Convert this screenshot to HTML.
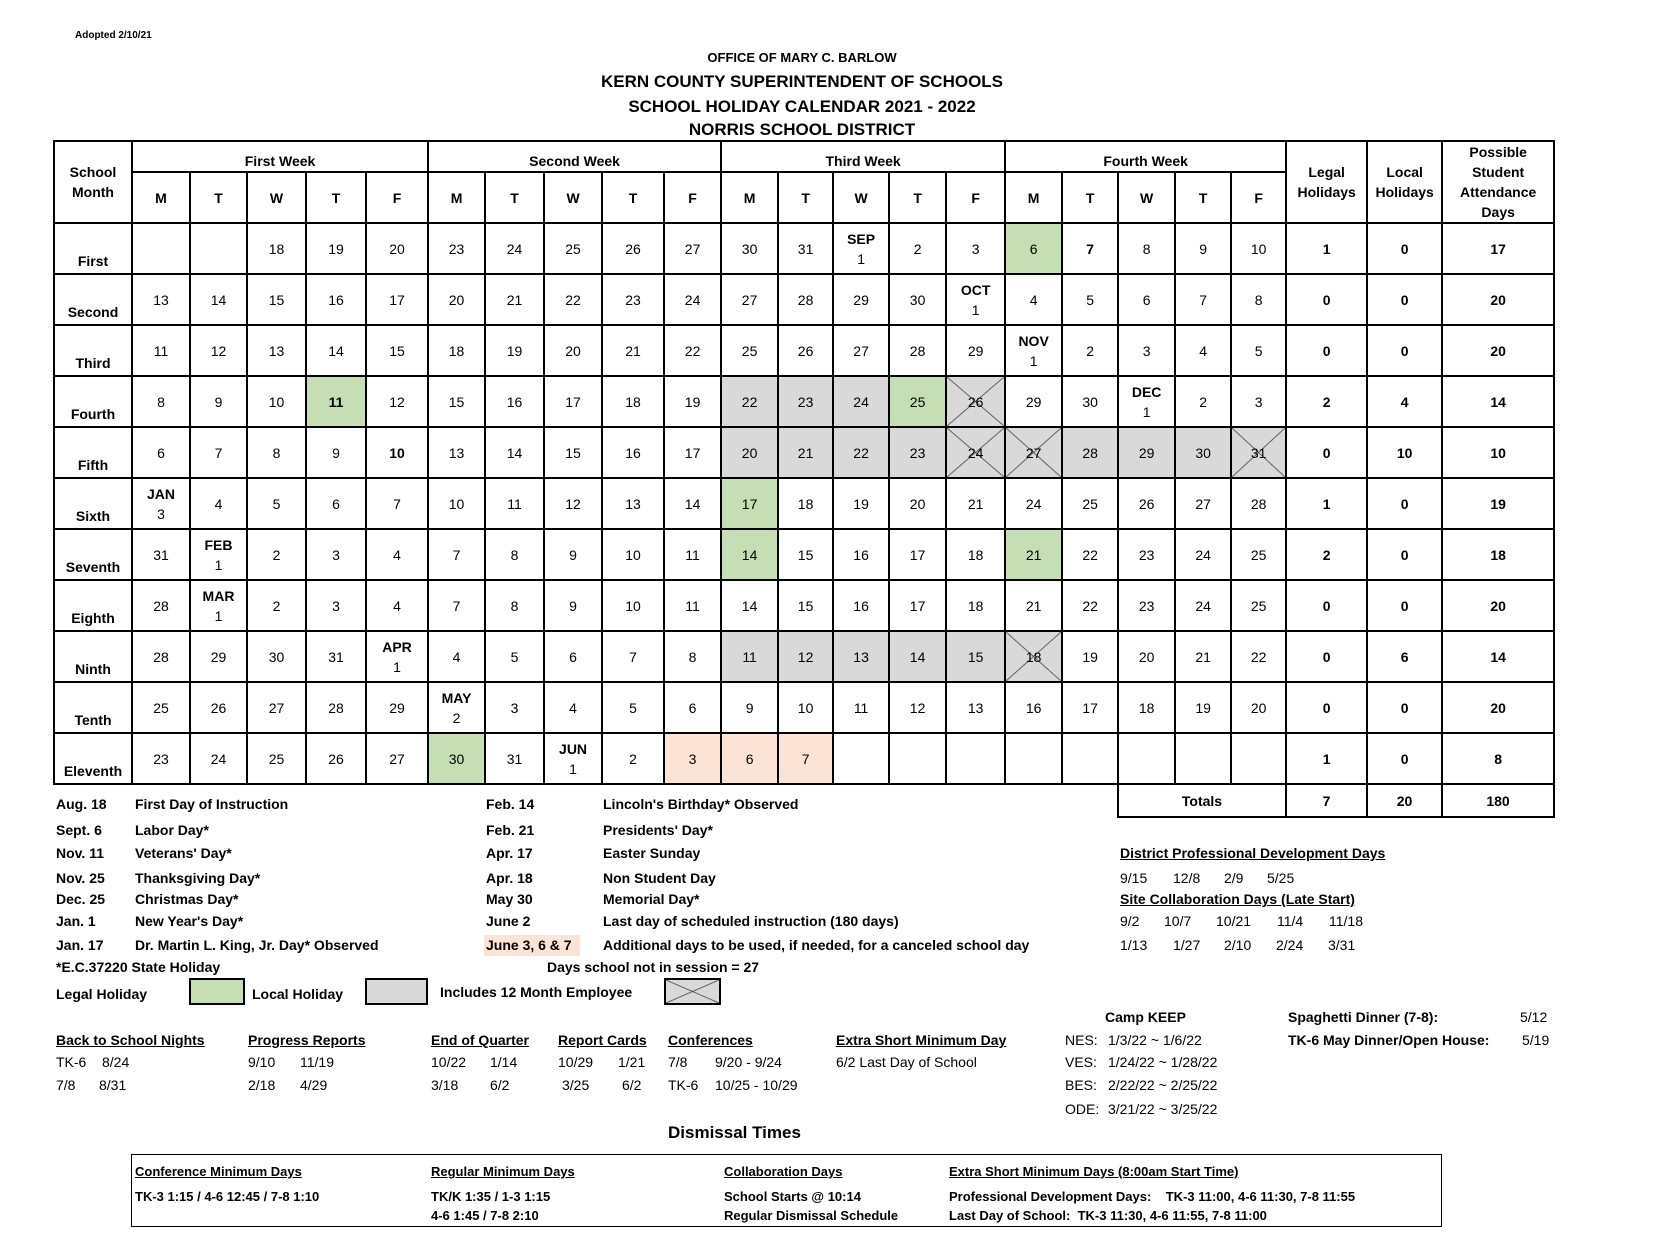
<!DOCTYPE html>
<html><head><meta charset="utf-8">
<style>
*{margin:0;padding:0;box-sizing:border-box}
body{width:1668px;height:1252px;background:#fff;position:relative;font-family:"Liberation Sans",sans-serif;color:#000;overflow:hidden}
.t{position:absolute;white-space:nowrap;line-height:18px;font-size:14px}
.b{font-weight:bold}
.u{text-decoration:underline}
.c{transform:translateX(-50%)}
table{position:absolute;border-collapse:collapse;table-layout:fixed}
td{border:2px solid #000;text-align:center;vertical-align:middle;font-size:14px;padding:0;line-height:20px}
tr.r td{height:51px}
td.m{font-weight:bold;vertical-align:bottom;padding-bottom:2px}
td.h{font-weight:bold}
.g{background:#c5deb3}
.s{background:#d9d9d9}
.p{background:#fbe4d5}
.x{background:linear-gradient(to top right,transparent calc(50% - 0.8px),#444 50%,transparent calc(50% + 0.8px)),linear-gradient(to bottom right,transparent calc(50% - 0.8px),#444 50%,transparent calc(50% + 0.8px)),#d9d9d9}
td.k{font-weight:bold}
.box{position:absolute;border:2px solid #000}
</style></head><body>
<div class="t b" style="left:75px;top:27px;font-size:10px">Adopted 2/10/21</div>
<div class="t b c" style="left:802px;top:49px;font-size:13px">OFFICE OF MARY C. BARLOW</div>
<div class="t b c" style="left:802px;top:72px;font-size:17px;line-height:20px">KERN COUNTY SUPERINTENDENT OF SCHOOLS</div>
<div class="t b c" style="left:802px;top:97px;font-size:17px;line-height:20px">SCHOOL HOLIDAY CALENDAR 2021 - 2022</div>
<div class="t b c" style="left:802px;top:120px;font-size:17px;line-height:20px">NORRIS SCHOOL DISTRICT</div>

<table style="left:53px;top:140px;width:1500px">
<colgroup><col style="width:78px"><col style="width:58px"><col style="width:57px"><col style="width:59px"><col style="width:60px"><col style="width:62px"><col style="width:57px"><col style="width:59px"><col style="width:58px"><col style="width:62px"><col style="width:57px"><col style="width:57px"><col style="width:55px"><col style="width:56px"><col style="width:57px"><col style="width:59px"><col style="width:57px"><col style="width:56px"><col style="width:57px"><col style="width:56px"><col style="width:55px"><col style="width:81px"><col style="width:75px"><col style="width:112px"></colgroup>
<tr style="height:31px"><td class="h" rowspan="2">School<br>Month</td><td class="h" colspan="5" style="vertical-align:bottom">First Week</td><td class="h" colspan="5" style="vertical-align:bottom">Second Week</td><td class="h" colspan="5" style="vertical-align:bottom">Third Week</td><td class="h" colspan="5" style="vertical-align:bottom">Fourth Week</td><td class="h" rowspan="2">Legal<br>Holidays</td><td class="h" rowspan="2">Local<br>Holidays</td><td class="h" rowspan="2">Possible<br>Student<br>Attendance<br>Days</td></tr>
<tr style="height:51px"><td class="h">M</td><td class="h">T</td><td class="h">W</td><td class="h">T</td><td class="h">F</td><td class="h">M</td><td class="h">T</td><td class="h">W</td><td class="h">T</td><td class="h">F</td><td class="h">M</td><td class="h">T</td><td class="h">W</td><td class="h">T</td><td class="h">F</td><td class="h">M</td><td class="h">T</td><td class="h">W</td><td class="h">T</td><td class="h">F</td></tr>
<tr class="r"><td class="m">First</td><td></td><td></td><td>18</td><td>19</td><td>20</td><td>23</td><td>24</td><td>25</td><td>26</td><td>27</td><td>30</td><td>31</td><td><b>SEP</b><br>1</td><td>2</td><td>3</td><td class="g">6</td><td class="k">7</td><td>8</td><td>9</td><td>10</td><td class="k">1</td><td class="k">0</td><td class="k">17</td></tr>
<tr class="r"><td class="m">Second</td><td>13</td><td>14</td><td>15</td><td>16</td><td>17</td><td>20</td><td>21</td><td>22</td><td>23</td><td>24</td><td>27</td><td>28</td><td>29</td><td>30</td><td><b>OCT</b><br>1</td><td>4</td><td>5</td><td>6</td><td>7</td><td>8</td><td class="k">0</td><td class="k">0</td><td class="k">20</td></tr>
<tr class="r"><td class="m">Third</td><td>11</td><td>12</td><td>13</td><td>14</td><td>15</td><td>18</td><td>19</td><td>20</td><td>21</td><td>22</td><td>25</td><td>26</td><td>27</td><td>28</td><td>29</td><td><b>NOV</b><br>1</td><td>2</td><td>3</td><td>4</td><td>5</td><td class="k">0</td><td class="k">0</td><td class="k">20</td></tr>
<tr class="r"><td class="m">Fourth</td><td>8</td><td>9</td><td>10</td><td class="g k">11</td><td>12</td><td>15</td><td>16</td><td>17</td><td>18</td><td>19</td><td class="s">22</td><td class="s">23</td><td class="s">24</td><td class="g">25</td><td class="x">26</td><td>29</td><td>30</td><td><b>DEC</b><br>1</td><td>2</td><td>3</td><td class="k">2</td><td class="k">4</td><td class="k">14</td></tr>
<tr class="r"><td class="m">Fifth</td><td>6</td><td>7</td><td>8</td><td>9</td><td class="k">10</td><td>13</td><td>14</td><td>15</td><td>16</td><td>17</td><td class="s">20</td><td class="s">21</td><td class="s">22</td><td class="s">23</td><td class="x">24</td><td class="x">27</td><td class="s">28</td><td class="s">29</td><td class="s">30</td><td class="x">31</td><td class="k">0</td><td class="k">10</td><td class="k">10</td></tr>
<tr class="r"><td class="m">Sixth</td><td><b>JAN</b><br>3</td><td>4</td><td>5</td><td>6</td><td>7</td><td>10</td><td>11</td><td>12</td><td>13</td><td>14</td><td class="g">17</td><td>18</td><td>19</td><td>20</td><td>21</td><td>24</td><td>25</td><td>26</td><td>27</td><td>28</td><td class="k">1</td><td class="k">0</td><td class="k">19</td></tr>
<tr class="r"><td class="m">Seventh</td><td>31</td><td><b>FEB</b><br>1</td><td>2</td><td>3</td><td>4</td><td>7</td><td>8</td><td>9</td><td>10</td><td>11</td><td class="g">14</td><td>15</td><td>16</td><td>17</td><td>18</td><td class="g">21</td><td>22</td><td>23</td><td>24</td><td>25</td><td class="k">2</td><td class="k">0</td><td class="k">18</td></tr>
<tr class="r"><td class="m">Eighth</td><td>28</td><td><b>MAR</b><br>1</td><td>2</td><td>3</td><td>4</td><td>7</td><td>8</td><td>9</td><td>10</td><td>11</td><td>14</td><td>15</td><td>16</td><td>17</td><td>18</td><td>21</td><td>22</td><td>23</td><td>24</td><td>25</td><td class="k">0</td><td class="k">0</td><td class="k">20</td></tr>
<tr class="r"><td class="m">Ninth</td><td>28</td><td>29</td><td>30</td><td>31</td><td><b>APR</b><br>1</td><td>4</td><td>5</td><td>6</td><td>7</td><td>8</td><td class="s">11</td><td class="s">12</td><td class="s">13</td><td class="s">14</td><td class="s">15</td><td class="x">18</td><td>19</td><td>20</td><td>21</td><td>22</td><td class="k">0</td><td class="k">6</td><td class="k">14</td></tr>
<tr class="r"><td class="m">Tenth</td><td>25</td><td>26</td><td>27</td><td>28</td><td>29</td><td><b>MAY</b><br>2</td><td>3</td><td>4</td><td>5</td><td>6</td><td>9</td><td>10</td><td>11</td><td>12</td><td>13</td><td>16</td><td>17</td><td>18</td><td>19</td><td>20</td><td class="k">0</td><td class="k">0</td><td class="k">20</td></tr>
<tr class="r"><td class="m">Eleventh</td><td>23</td><td>24</td><td>25</td><td>26</td><td>27</td><td class="g">30</td><td>31</td><td><b>JUN</b><br>1</td><td>2</td><td class="p">3</td><td class="p">6</td><td class="p">7</td><td></td><td></td><td></td><td></td><td></td><td></td><td></td><td></td><td class="k">1</td><td class="k">0</td><td class="k">8</td></tr>
</table>
<table style="left:1117px;top:783px;width:436px">
<colgroup><col style="width:168px"><col style="width:81px"><col style="width:75px"><col style="width:112px"></colgroup>
<tr style="height:33px"><td class="k">Totals</td><td class="k">7</td><td class="k">20</td><td class="k">180</td></tr>
</table>

<div class="t b" style="left:56px;top:795px">Aug. 18</div><div class="t b" style="left:135px;top:795px">First Day of Instruction</div>
<div class="t b" style="left:56px;top:821px">Sept. 6</div><div class="t b" style="left:135px;top:821px">Labor Day*</div>
<div class="t b" style="left:56px;top:844px">Nov. 11</div><div class="t b" style="left:135px;top:844px">Veterans' Day*</div>
<div class="t b" style="left:56px;top:869px">Nov. 25</div><div class="t b" style="left:135px;top:869px">Thanksgiving Day*</div>
<div class="t b" style="left:56px;top:890px">Dec. 25</div><div class="t b" style="left:135px;top:890px">Christmas Day*</div>
<div class="t b" style="left:56px;top:912px">Jan. 1</div><div class="t b" style="left:135px;top:912px">New Year's Day*</div>
<div class="t b" style="left:56px;top:936px">Jan. 17</div><div class="t b" style="left:135px;top:936px">Dr. Martin L. King, Jr. Day* Observed</div>
<div class="t b" style="left:56px;top:958px">*E.C.37220 State Holiday</div>

<div class="t b" style="left:486px;top:795px">Feb. 14</div><div class="t b" style="left:603px;top:795px">Lincoln's Birthday* Observed</div>
<div class="t b" style="left:486px;top:821px">Feb. 21</div><div class="t b" style="left:603px;top:821px">Presidents' Day*</div>
<div class="t b" style="left:486px;top:844px">Apr. 17</div><div class="t b" style="left:603px;top:844px">Easter Sunday</div>
<div class="t b" style="left:486px;top:869px">Apr. 18</div><div class="t b" style="left:603px;top:869px">Non Student Day</div>
<div class="t b" style="left:486px;top:890px">May 30</div><div class="t b" style="left:603px;top:890px">Memorial Day*</div>
<div class="t b" style="left:486px;top:912px">June 2</div><div class="t b" style="left:603px;top:912px">Last day of scheduled instruction (180 days)</div>
<div class="p" style="position:absolute;left:484px;top:935px;width:96px;height:21px"></div>
<div class="t b" style="left:486px;top:936px">June 3, 6 &amp; 7</div><div class="t b" style="left:603px;top:936px">Additional days to be used, if needed, for a canceled school day</div>
<div class="t b" style="left:547px;top:958px">Days school not in session = 27</div>

<div class="t b" style="left:56px;top:985px">Legal Holiday</div>
<div class="box g" style="left:189px;top:978px;width:56px;height:27px"></div>
<div class="t b" style="left:252px;top:985px">Local Holiday</div>
<div class="box s" style="left:365px;top:978px;width:63px;height:27px"></div>
<div class="t b" style="left:440px;top:983px">Includes 12 Month Employee</div>
<div class="box" style="left:664px;top:978px;width:57px;height:27px;background:linear-gradient(to top right,transparent calc(50% - 0.8px),#444 50%,transparent calc(50% + 0.8px)),linear-gradient(to bottom right,transparent calc(50% - 0.8px),#444 50%,transparent calc(50% + 0.8px)),#d9d9d9"></div>

<div class="t b u" style="left:1120px;top:844px">District Professional Development Days</div>
<div class="t" style="left:1120px;top:869px">9/15</div><div class="t" style="left:1173px;top:869px">12/8</div><div class="t" style="left:1224px;top:869px">2/9</div><div class="t" style="left:1267px;top:869px">5/25</div>
<div class="t b u" style="left:1120px;top:890px">Site Collaboration Days (Late Start)</div>
<div class="t" style="left:1120px;top:912px">9/2</div><div class="t" style="left:1164px;top:912px">10/7</div><div class="t" style="left:1216px;top:912px">10/21</div><div class="t" style="left:1277px;top:912px">11/4</div><div class="t" style="left:1329px;top:912px">11/18</div>
<div class="t" style="left:1120px;top:936px">1/13</div><div class="t" style="left:1173px;top:936px">1/27</div><div class="t" style="left:1224px;top:936px">2/10</div><div class="t" style="left:1276px;top:936px">2/24</div><div class="t" style="left:1328px;top:936px">3/31</div>

<div class="t b u" style="left:56px;top:1031px">Back to School Nights</div>
<div class="t" style="left:56px;top:1053px">TK-6</div><div class="t" style="left:102px;top:1053px">8/24</div>
<div class="t" style="left:56px;top:1076px">7/8</div><div class="t" style="left:99px;top:1076px">8/31</div>
<div class="t b u" style="left:248px;top:1031px">Progress Reports</div>
<div class="t" style="left:248px;top:1053px">9/10</div><div class="t" style="left:300px;top:1053px">11/19</div>
<div class="t" style="left:248px;top:1076px">2/18</div><div class="t" style="left:300px;top:1076px">4/29</div>
<div class="t b u" style="left:431px;top:1031px">End of Quarter</div>
<div class="t" style="left:431px;top:1053px">10/22</div><div class="t" style="left:490px;top:1053px">1/14</div>
<div class="t" style="left:431px;top:1076px">3/18</div><div class="t" style="left:490px;top:1076px">6/2</div>
<div class="t b u" style="left:558px;top:1031px">Report Cards</div>
<div class="t" style="left:558px;top:1053px">10/29</div><div class="t" style="left:618px;top:1053px">1/21</div>
<div class="t" style="left:562px;top:1076px">3/25</div><div class="t" style="left:622px;top:1076px">6/2</div>
<div class="t b u" style="left:668px;top:1031px">Conferences</div>
<div class="t" style="left:668px;top:1053px">7/8</div><div class="t" style="left:715px;top:1053px">9/20 - 9/24</div>
<div class="t" style="left:668px;top:1076px">TK-6</div><div class="t" style="left:715px;top:1076px">10/25 - 10/29</div>
<div class="t b u" style="left:836px;top:1031px">Extra Short Minimum Day</div>
<div class="t" style="left:836px;top:1053px">6/2 Last Day of School</div>

<div class="t b" style="left:1105px;top:1008px">Camp KEEP</div>
<div class="t" style="left:1065px;top:1031px">NES:</div><div class="t" style="left:1108px;top:1031px">1/3/22 ~ 1/6/22</div>
<div class="t" style="left:1065px;top:1053px">VES:</div><div class="t" style="left:1108px;top:1053px">1/24/22 ~ 1/28/22</div>
<div class="t" style="left:1065px;top:1076px">BES:</div><div class="t" style="left:1108px;top:1076px">2/22/22 ~ 2/25/22</div>
<div class="t" style="left:1065px;top:1100px">ODE:</div><div class="t" style="left:1108px;top:1100px">3/21/22 ~ 3/25/22</div>
<div class="t b" style="left:1288px;top:1008px">Spaghetti Dinner (7-8):</div><div class="t" style="left:1520px;top:1008px">5/12</div>
<div class="t b" style="left:1288px;top:1031px">TK-6 May Dinner/Open House:</div><div class="t" style="left:1522px;top:1031px">5/19</div>

<div class="t b" style="left:668px;top:1123px;font-size:17px;line-height:20px">Dismissal Times</div>
<div class="box" style="left:131px;top:1154px;width:1311px;height:73px;border-width:1.5px"></div>
<div class="t b u" style="left:135px;top:1163px;font-size:13px">Conference Minimum Days</div>
<div class="t b" style="left:135px;top:1188px;font-size:13px">TK-3 1:15 / 4-6 12:45 / 7-8 1:10</div>
<div class="t b u" style="left:431px;top:1163px;font-size:13px">Regular Minimum Days</div>
<div class="t b" style="left:431px;top:1188px;font-size:13px">TK/K 1:35 / 1-3 1:15</div>
<div class="t b" style="left:431px;top:1207px;font-size:13px">4-6 1:45 / 7-8 2:10</div>
<div class="t b u" style="left:724px;top:1163px;font-size:13px">Collaboration Days</div>
<div class="t b" style="left:724px;top:1188px;font-size:13px">School Starts @ 10:14</div>
<div class="t b" style="left:724px;top:1207px;font-size:13px">Regular Dismissal Schedule</div>
<div class="t b u" style="left:949px;top:1163px;font-size:13px">Extra Short Minimum Days (8:00am Start Time)</div>
<div class="t b" style="left:949px;top:1188px;font-size:13px">Professional Development Days:&nbsp;&nbsp;&nbsp; TK-3 11:00, 4-6 11:30, 7-8 11:55</div>
<div class="t b" style="left:949px;top:1207px;font-size:13px">Last Day of School:&nbsp; TK-3 11:30, 4-6 11:55, 7-8 11:00</div>
</body></html>
